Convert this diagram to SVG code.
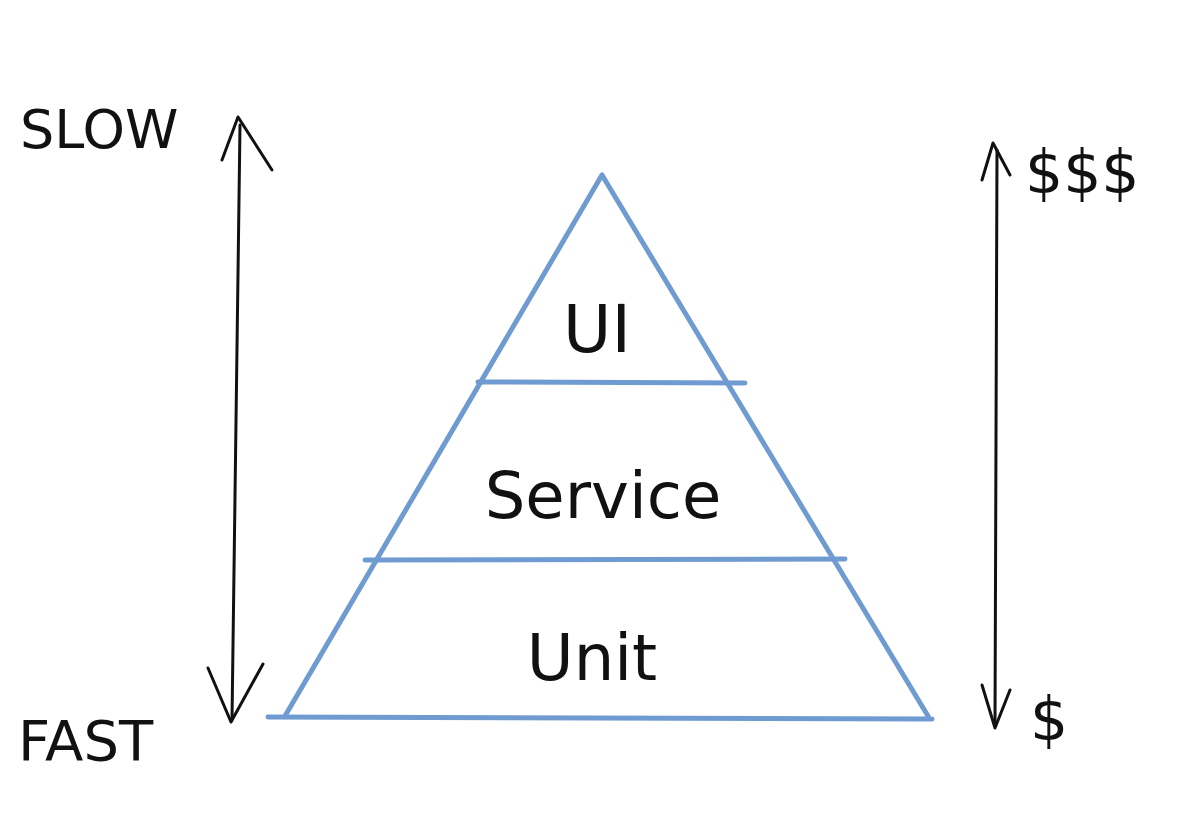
<svg xmlns="http://www.w3.org/2000/svg" width="1181" height="831" viewBox="0 0 1181 831">
<style>
.p{stroke:#6f9bd1;stroke-width:5;fill:none;stroke-linecap:round}
.a{stroke:#111;stroke-width:3;fill:none;stroke-linecap:round;stroke-linejoin:round}
.t{font-family:"DejaVu Sans",sans-serif;fill:#111}
</style>
<rect width="1181" height="831" fill="#fff"/>
<g id="pyramid">
<path class="p" d="M602,175 L285,716 M602,175 L928,716"/>
<path class="p" d="M478,382 L745,383"/>
<path class="p" d="M365,560 L845,559"/>
<path class="p" d="M268,717 L932,719"/>
</g>
<g id="ui"><text class="t" x="597" y="352" font-size="66" text-anchor="middle">UI</text></g>
<g id="service"><text class="t" x="603" y="518" font-size="64" text-anchor="middle">Service</text></g>
<g id="unit"><text class="t" x="592" y="680" font-size="64" text-anchor="middle">Unit</text></g>
<g id="connectors">
<path class="a" d="M240,125 L232,720"/>
<path class="a" d="M222,160 L238,117 L272,170"/>
<path class="a" d="M208,668 L231,722 L263,664"/>
<path class="a" d="M997,150 L995,725"/>
<path class="a" d="M982,180 L993,143 L1010,175"/>
<path class="a" d="M982,685 L995,728 L1010,690"/>
</g>
<g id="slow"><text class="t" x="20" y="148" font-size="54">SLOW</text></g>
<g id="fast"><text class="t" x="18" y="760" font-size="56">FAST</text></g>
<g id="cost-high"><text class="t" x="1025" y="193" font-size="60">$$$</text></g>
<g id="cost-low"><text class="t" x="1030" y="740" font-size="60">$</text></g>
</svg>
